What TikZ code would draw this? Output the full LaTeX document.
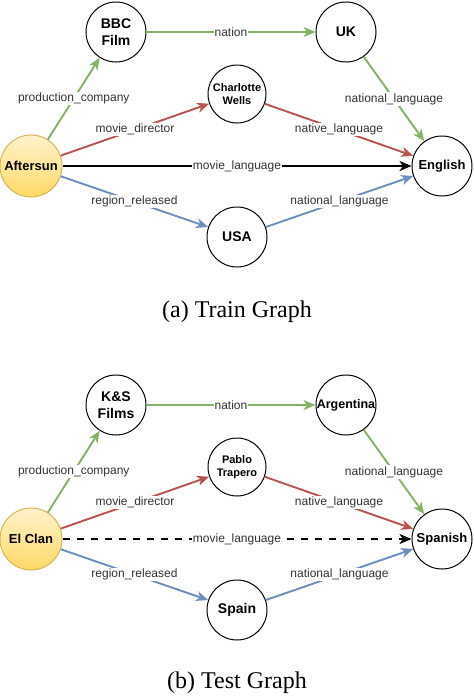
\documentclass[tikz,border=0pt]{standalone}
\usepackage{fontspec}
\setmainfont{Liberation Serif}
\setsansfont{Liberation Sans}
\usetikzlibrary{arrows.meta}
\definecolor{relgreen}{HTML}{82B366}
\definecolor{relred}{HTML}{B85450}
\definecolor{relblue}{HTML}{6C8EBF}
\definecolor{srcfill}{HTML}{FFD966}
\definecolor{srclight}{HTML}{FFF2CC}
\definecolor{srcline}{HTML}{D6B656}
\definecolor{labeltext}{HTML}{333333}

\begin{document}
\begin{tikzpicture}[x=1pt,y=-1pt,
        entity/.style={circle,draw,line width=1pt,minimum size=60pt,inner sep=0pt,align=center,
            font=\sffamily\bfseries\fontsize{14}{17}\selectfont},
        medtext/.style={font=\sffamily\bfseries\fontsize{13}{16}\selectfont},
        smalltext/.style={font=\sffamily\bfseries\fontsize{11}{13}\selectfont},
        source/.style={entity,medtext,minimum size=62pt,draw=srcline,top color=srclight,bottom color=srcfill},
        rel/.style={line width=1.9pt,-{Stealth[length=12pt,width=10pt,inset=3.5pt]}},
        lbl/.style={midway,fill=white,inner sep=1pt,text=labeltext,font=\sffamily\fontsize{12}{14}\selectfont}
    ]
        \useasboundingbox (0,0) rectangle (474,697);
        % Train graph nodes
        \node [source] (aftersun) at (31,166) {Aftersun};
        \node [entity] (bbc) at (116,32) {BBC\\Film};
        \node [entity] (uk) at (346,32) {UK};
        \node [entity,smalltext,minimum size=58pt] (charlotte) at (237,94) {Charlotte\\Wells};
        \node [entity,medtext] (english) at (442,166) {English};
        \node [entity] (usa) at (237,237) {USA};
        % Train graph edges
        \draw [rel,relgreen] (aftersun) -- (bbc) node [lbl] {production\_company};
        \draw [rel,relgreen] (bbc) -- (uk) node [lbl] {nation};
        \draw [rel,relgreen] (uk) -- (english) node [lbl] {national\_language};
        \draw [rel,relred] (aftersun) -- (charlotte) node [lbl] {movie\_director};
        \draw [rel,relred] (charlotte) -- (english) node [lbl] {native\_language};
        \draw [rel,black,line width=2.3pt] (aftersun) -- (english) node [lbl] {movie\_language};
        \draw [rel,relblue] (aftersun) -- (usa) node [lbl] {region\_released};
        \draw [rel,relblue] (usa) -- (english) node [lbl] {national\_language};
        \node (captiona) at (237,312) {\fontsize{24}{28}\selectfont (a) Train Graph};
        % Test graph nodes
        \node [source] (elclan) at (31,539) {El Clan};
        \node [entity] (ks) at (116,405) {K\&S\\Films};
        \node [entity,font=\sffamily\bfseries\fontsize{12.5}{15}\selectfont] (argentina) at (346,405) {Argentina};
        \node [entity,smalltext,minimum size=58pt] (pablo) at (237,467) {Pablo\\Trapero};
        \node [entity,medtext] (spanish) at (442,539) {Spanish};
        \node [entity] (spain) at (237,610) {Spain};
        % Test graph edges
        \draw [rel,relgreen] (elclan) -- (ks) node [lbl] {production\_company};
        \draw [rel,relgreen] (ks) -- (argentina) node [lbl] {nation};
        \draw [rel,relgreen] (argentina) -- (spanish) node [lbl] {national\_language};
        \draw [rel,relred] (elclan) -- (pablo) node [lbl] {movie\_director};
        \draw [rel,relred] (pablo) -- (spanish) node [lbl] {native\_language};
        \draw [rel,black,line width=2.3pt,dash pattern=on 7pt off 7pt] (elclan) -- (spanish) node [lbl] {movie\_language};
        \draw [rel,relblue] (elclan) -- (spain) node [lbl] {region\_released};
        \draw [rel,relblue] (spain) -- (spanish) node [lbl] {national\_language};
        \node (captionb) at (237,683) {\fontsize{24}{28}\selectfont (b) Test Graph};
    \end{tikzpicture}
\end{document}
